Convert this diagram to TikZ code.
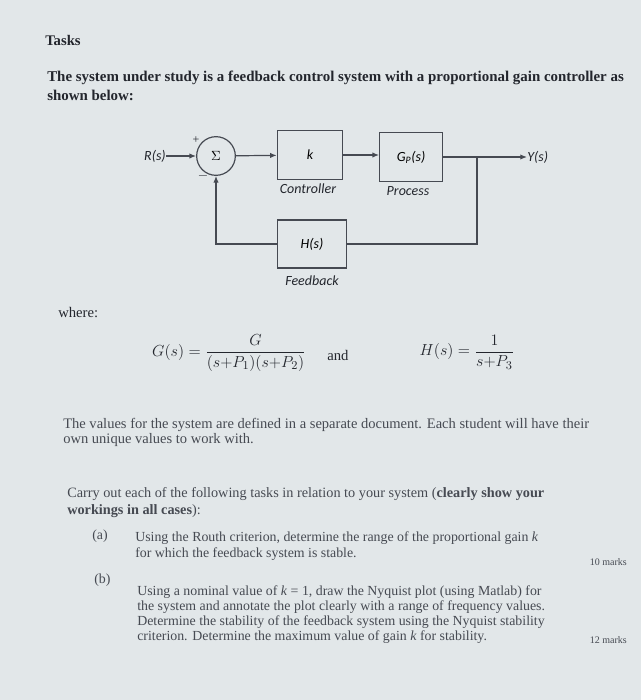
\documentclass[tikz,border=0pt]{standalone}
\usepackage{amsmath}
\usepackage{fontspec}
\setmainfont{Liberation Serif}
\newfontfamily\diag{Carlito}
\usetikzlibrary{arrows.meta}
\definecolor{bg}{RGB}{226,231,233}
\definecolor{ink}{RGB}{35,38,45}
\definecolor{ink2}{RGB}{70,74,82}
\tikzset{
  txt/.style={anchor=west,inner sep=0pt,text=ink,font=\fontsize{10.5}{12}\selectfont},
  txt2/.style={txt,text=ink2,font=\fontsize{10.4}{11}\selectfont},
  blk/.style={draw=ink2,line width=0.9pt,inner sep=0pt,fill=bg},
  lbl/.style={inner sep=0pt,text=ink,font=\diag\itshape\fontsize{10.5}{12}\selectfont},
  wire/.style={draw=ink2,line width=0.9pt},
  arr/.style={wire,-{Latex[length=5pt,width=4pt]}}
}
\begin{document}
\begin{tikzpicture}[x=0.75pt,y=-0.75pt]
\fill[bg] (0,0) rectangle (641,700);
\useasboundingbox (0,0) rectangle (641,700);
\node[txt,font=\bfseries\fontsize{11}{13}\selectfont] (title) at (45,40) {Tasks};
\node[txt,font=\bfseries\fontsize{11.2}{13}\selectfont] (p1) at (47,78) {The system under study is a feedback control system with a proportional gain controller as};
\node[txt,font=\bfseries\fontsize{11.2}{13}\selectfont] (p2) at (47,95) {shown below:};
% block diagram
\node[lbl,anchor=east] (R) at (166,156) {R(s)};
\node[blk,circle,minimum size=29] (sum) at (216,156) {$\Sigma$};
\node[blk,minimum width=49,minimum height=37] (k) at (310,155) {\diag\itshape\fontsize{10.5}{12}\selectfont k};
\node[blk,minimum width=47,minimum height=37] (gp) at (411,157) {\diag\itshape\fontsize{10.5}{12}\selectfont G\textsubscript{P}(s)};
\node[blk,minimum width=52,minimum height=36] (h) at (312,244) {\diag\itshape\fontsize{10.5}{12}\selectfont H(s)};
\node[lbl] (cl) at (308,189) {Controller};
\node[lbl] (pl) at (408,191) {Process};
\node[lbl] (fl) at (312,281) {Feedback};
\node[lbl,anchor=west] (Y) at (527,157) {Y(s)};
\node[lbl,font=\fontsize{9}{9}\selectfont] (plus) at (196,140) {+};
\node[lbl,font=\fontsize{10}{10}\selectfont] (minus) at (203,176) {$-$};
\coordinate (br) at (477,157);
\draw[arr] (R) -- (sum);
\draw[arr] (sum) -- (k);
\draw[arr] (k.east) -- (gp.west |- k.east);
\draw[arr] (gp.east) -- (Y);
\draw[wire] (br) |- (h.east);
\draw[arr] (h.west) -| (sum.south);
% where
\node[txt,font=\fontsize{11}{13}\selectfont] (where) at (58,313) {where:};
\node[inner sep=0pt,text=ink,font=\fontsize{12.5}{14}\selectfont] (G) at (229,353) {$G(s)=\dfrac{G}{(s{+}P_1)(s{+}P_2)}$};
\node[txt,font=\fontsize{11}{13}\selectfont] (and) at (327,355) {and};
\node[inner sep=0pt,text=ink,font=\fontsize{12.5}{14}\selectfont] (H) at (467,352) {$H(s)=\dfrac{1}{s{+}P_3}$};
\node[txt2,font=\fontsize{10.9}{12}\selectfont] (q1) at (63,425) {The values for the system are defined in a separate document. Each student will have their};
\node[txt2,font=\fontsize{10.9}{12}\selectfont] (q2) at (63,440) {own unique values to work with.};
\node[txt2,font=\fontsize{10.7}{12}\selectfont] (c1) at (67,494) {Carry out each of the following tasks in relation to your system (\textbf{clearly show your}};
\node[txt2,font=\fontsize{10.7}{12}\selectfont] (c2) at (67,511) {\textbf{workings in all cases}):};
\node[txt2] (a) at (92,536) {(a)};
\node[txt2] (a1) at (135,538) {Using the Routh criterion, determine the range of the proportional gain \textit{k}};
\node[txt2] (a2) at (135,554) {for which the feedback system is stable.};
\node[txt2,font=\fontsize{7.5}{9}\selectfont,anchor=east] (m1) at (627,562) {10 marks};
\node[txt2] (b) at (94,580) {(b)};
\node[txt2] (b1) at (137,592) {Using a nominal value of \textit{k} = 1, draw the Nyquist plot (using Matlab) for};
\node[txt2] (b2) at (137,607) {the system and annotate the plot clearly with a range of frequency values.};
\node[txt2] (b3) at (137,622) {Determine the stability of the feedback system using the Nyquist stability};
\node[txt2] (b4) at (137,637) {criterion. Determine the maximum value of gain \textit{k} for stability.};
\node[txt2,font=\fontsize{7.5}{9}\selectfont,anchor=east] (m2) at (627,640) {12 marks};
\end{tikzpicture}
\end{document}
